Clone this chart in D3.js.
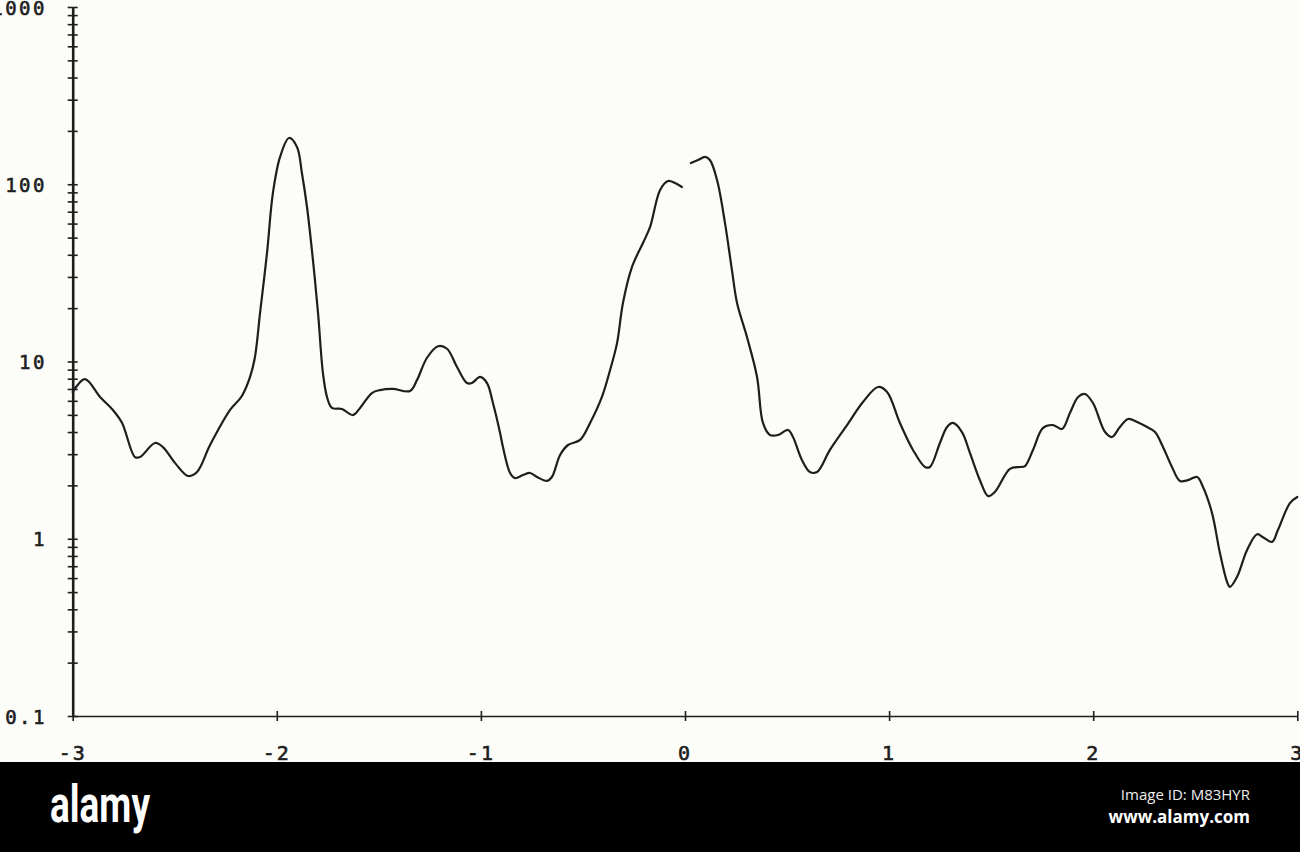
<!DOCTYPE html>
<html>
<head>
<meta charset="utf-8">
<script src="https://cdn.jsdelivr.net/npm/d3@7"></script>
<style>
  html, body { margin: 0; padding: 0; background: #fcfcf8; }
  svg { display: block; }
</style>
</head>
<body>
<svg id="chart" width="1300" height="852"></svg>
<script>
// ---- data ----
const xTickValues = [-3, -2, -1, 0, 1, 2, 3];
const xTickLabels = ["-3", "-2", "-1", "0", "1", "2", "3"];
const yDecades = [0.1, 1, 10, 100, 1000];
const yDecadeLabels = ["0.1", "1", "10", "100", "1000"];

// first segment (left of the small gap near x = 0)
const seg1X = [-3.000,-2.940,-2.866,-2.803,-2.758,-2.695,-2.670,-2.597,-2.558,-2.499,-2.435,-2.391,-2.327,-2.229,-2.171,-2.131,-2.107,-2.082,-2.048,-2.019,-1.984,-1.940,-1.901,-1.877,-1.852,-1.823,-1.798,-1.774,-1.754,-1.730,-1.681,-1.627,-1.592,-1.534,-1.494,-1.431,-1.347,-1.313,-1.264,-1.210,-1.166,-1.117,-1.068,-1.044,-1.004,-0.970,-0.941,-0.906,-0.892,-0.857,-0.833,-0.794,-0.759,-0.725,-0.676,-0.652,-0.612,-0.573,-0.514,-0.465,-0.407,-0.367,-0.333,-0.304,-0.260,-0.206,-0.171,-0.122,-0.083,-0.049,-0.015];
const seg1Y = [6.73,7.96,6.31,5.33,4.50,2.89,2.89,3.47,3.29,2.68,2.26,2.38,3.38,5.33,6.39,8.18,10.6,18.8,40.9,89.3,142.6,182.4,162.2,115.7,74.4,37.4,18.8,8.61,6.31,5.47,5.40,4.99,5.47,6.64,6.90,7.00,6.82,7.86,10.5,12.2,11.8,9.31,7.56,7.56,8.18,7.56,5.83,3.95,3.29,2.35,2.20,2.29,2.35,2.23,2.12,2.23,2.97,3.38,3.61,4.50,6.31,8.95,12.7,21.4,34.1,46.6,57.4,92.8,104.3,101.6,96.5];

// second segment (right of the gap)
const seg2X = [0.029,0.064,0.098,0.122,0.157,0.196,0.230,0.255,0.304,0.353,0.382,0.416,0.456,0.505,0.529,0.573,0.612,0.647,0.710,0.794,0.872,0.946,0.990,1.053,1.117,1.176,1.200,1.249,1.284,1.313,1.357,1.396,1.445,1.485,1.519,1.592,1.641,1.666,1.705,1.754,1.803,1.847,1.886,1.926,1.960,1.999,2.058,2.092,2.131,2.171,2.215,2.264,2.303,2.342,2.386,2.425,2.464,2.509,2.538,2.582,2.621,2.656,2.670,2.705,2.754,2.803,2.832,2.876,2.905,2.964,3.000];
const seg2Y = [131.8,137.0,142.6,137.0,105.7,60.4,32.8,21.4,13.7,8.18,4.50,3.85,3.85,4.11,3.75,2.78,2.38,2.38,3.17,4.38,5.91,7.18,6.73,4.50,3.17,2.54,2.54,3.47,4.27,4.50,4.00,3.05,2.14,1.74,1.84,2.48,2.54,2.57,3.17,4.22,4.38,4.16,5.12,6.31,6.56,5.83,4.00,3.75,4.27,4.74,4.56,4.27,4.00,3.29,2.54,2.12,2.14,2.23,1.96,1.40,0.83,0.57,0.535,0.61,0.865,1.06,1.02,0.96,1.12,1.59,1.72];

// ---- drawing ----
const ink = "#1e1e1e";
const svg = d3.select("#chart");
svg.append("rect").attr("width", 1300).attr("height", 852).attr("fill", "#fcfcf8");

const x = d3.scaleLinear().domain([-3, 3]).range([72.7, 1297.3]);
const y = d3.scaleLog().domain([0.1, 1000]).range([716, 7]);

// all log ticks (1..9 per decade)
const yAllTicks = [];
for (let d = 0.1; d < 1000; d *= 10) {
  for (let k = 1; k <= 9; k++) yAllTicks.push(+(d * k).toPrecision(3));
}
yAllTicks.push(1000);

const fontFam = "'DejaVu Sans Mono', 'Liberation Mono', monospace";

// Y axis
const yAxis = d3.axisLeft(y).tickValues(yAllTicks).tickFormat(() => "").tickSizeOuter(0);
const gy = svg.append("g").attr("transform", `translate(${x(-3)},0)`).call(yAxis);
gy.select(".domain").attr("stroke", ink).attr("stroke-width", 2.6);
gy.selectAll(".tick line").attr("x1", -5).attr("x2", 5).attr("stroke", ink).attr("stroke-width", 1.6);

// Y labels
svg.append("g").selectAll("text").data(yDecades).join("text")
  .attr("x", 47).attr("y", d => y(d) + 7.5)
  .attr("text-anchor", "end")
  .attr("font-family", fontFam).attr("font-size", 19)
  .attr("letter-spacing", 2.5)
  .attr("fill", ink).attr("stroke", ink).attr("stroke-width", 0.6)
  .text((d, i) => yDecadeLabels[i]);

// X axis
const xAxis = d3.axisBottom(x).tickValues(xTickValues).tickFormat(() => "").tickSizeOuter(0);
const gx = svg.append("g").attr("transform", `translate(0,${y(0.1)})`).call(xAxis);
gx.select(".domain").attr("stroke", ink).attr("stroke-width", 1.6);
gx.selectAll(".tick line").attr("y1", -5).attr("y2", 5).attr("stroke", ink).attr("stroke-width", 1.6);

svg.append("g").selectAll("text").data(xTickValues).join("text")
  .attr("x", d => x(d)).attr("y", 760)
  .attr("text-anchor", "middle")
  .attr("font-family", fontFam).attr("font-size", 20)
  .attr("letter-spacing", 2)
  .attr("fill", ink).attr("stroke", ink).attr("stroke-width", 0.6)
  .text((d, i) => xTickLabels[i]);

// curve
const line = d3.line().x(d => x(d[0])).y(d => y(d[1])).curve(d3.curveCatmullRom.alpha(0.5));
[[seg1X, seg1Y], [seg2X, seg2Y]].forEach(([xs, ys]) => {
  const pts = xs.map((v, i) => [v, ys[i]]);
  svg.append("path").datum(pts).attr("d", line)
    .attr("fill", "none").attr("stroke", ink).attr("stroke-width", 2.2)
    .attr("stroke-linejoin", "round").attr("stroke-linecap", "round");
});

// watermark band
svg.append("rect").attr("x", 0).attr("y", 762).attr("width", 1300).attr("height", 90).attr("fill", "#000");
svg.append("text").attr("x", 50).attr("y", 822)
  .attr("font-family", "Roboto, 'Liberation Sans', sans-serif").attr("font-weight", 700)
  .attr("font-size", 52).attr("fill", "#fff")
  .attr("textLength", 100).attr("lengthAdjust", "spacingAndGlyphs")
  .text("alamy");
svg.append("text").attr("x", 1250).attr("y", 800).attr("text-anchor", "end")
  .attr("font-family", "'Open Sans', sans-serif").attr("font-size", 15).attr("fill", "#eee")
  .text("Image ID: M83HYR");
svg.append("text").attr("x", 1250).attr("y", 823).attr("text-anchor", "end")
  .attr("font-family", "'Open Sans', sans-serif").attr("font-weight", 700).attr("font-size", 17).attr("fill", "#fff")
  .text("www.alamy.com");
</script>
</body>
</html>
